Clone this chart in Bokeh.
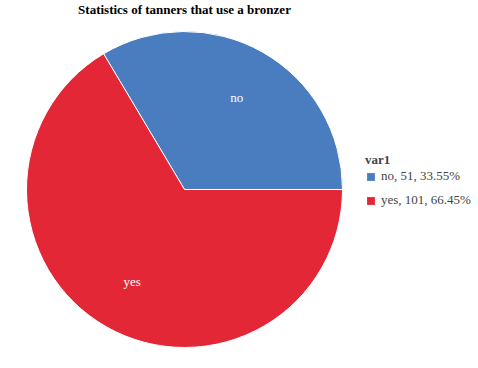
import math
from bokeh.plotting import figure
from bokeh.models import Range1d, Legend, LegendItem
from bokeh.core.properties import value
from bokeh.embed import file_html
from bokeh.resources import INLINE

categories = ["no", "yes"]
counts = [51, 101]
colors = ["#4a7dbf", "#e32737"]
title_text = "Statistics of tanners that use a bronzer"
legend_title = "var1"

W, H = 478, 368
cx, cy, r = 184, H - 189, 158

total = sum(counts)
starts, ends, lx, ly, labels = [], [], [], [], []
a = 0.0
for c, n in zip(categories, counts):
    frac = n / total
    s, e = a, a + frac * 2 * math.pi
    starts.append(s); ends.append(e)
    mid = (s + e) / 2
    lx.append(cx + 0.67 * r * math.cos(mid))
    ly.append(cy + 0.67 * r * math.sin(mid))
    labels.append(f"{c}, {n}, {frac*100:.2f}%")
    a = e

p = figure(width=W, height=H, output_backend="svg", toolbar_location=None,
           x_range=Range1d(0, W), y_range=Range1d(0, H), min_border=0)
p.axis.visible = False
p.grid.visible = False
p.outline_line_color = None

items = []
for i in range(len(categories)):
    rnd = p.wedge(x=cx, y=cy, radius=r, start_angle=starts[i], end_angle=ends[i],
                  fill_color=colors[i], line_color="white", line_width=1)
    items.append(LegendItem(label=labels[i], renderers=[rnd]))

p.text(x=lx, y=ly, text=categories, text_color="white", text_align="center",
       text_baseline="middle", text_font=value("Liberation Serif"), text_font_size="13px")

p.text(x=[cx], y=[H - 9], text=[title_text], text_align="center", text_baseline="middle",
       text_font=value("Liberation Serif"), text_font_size="13px", text_font_style="bold",
       text_color="black")

legend = Legend(items=items, location=(365, H - 208), title=legend_title,
                title_text_font="Liberation Serif", title_text_font_style="bold",
                title_text_font_size="13px", label_text_font="Liberation Serif",
                label_text_font_size="13px", glyph_width=11, glyph_height=11,
                label_standoff=5, spacing=8, padding=2, margin=0,
                border_line_color=None, background_fill_alpha=0, title_standoff=0)
p.add_layout(legend)

open("out.html", "w").write(file_html(p, INLINE))
